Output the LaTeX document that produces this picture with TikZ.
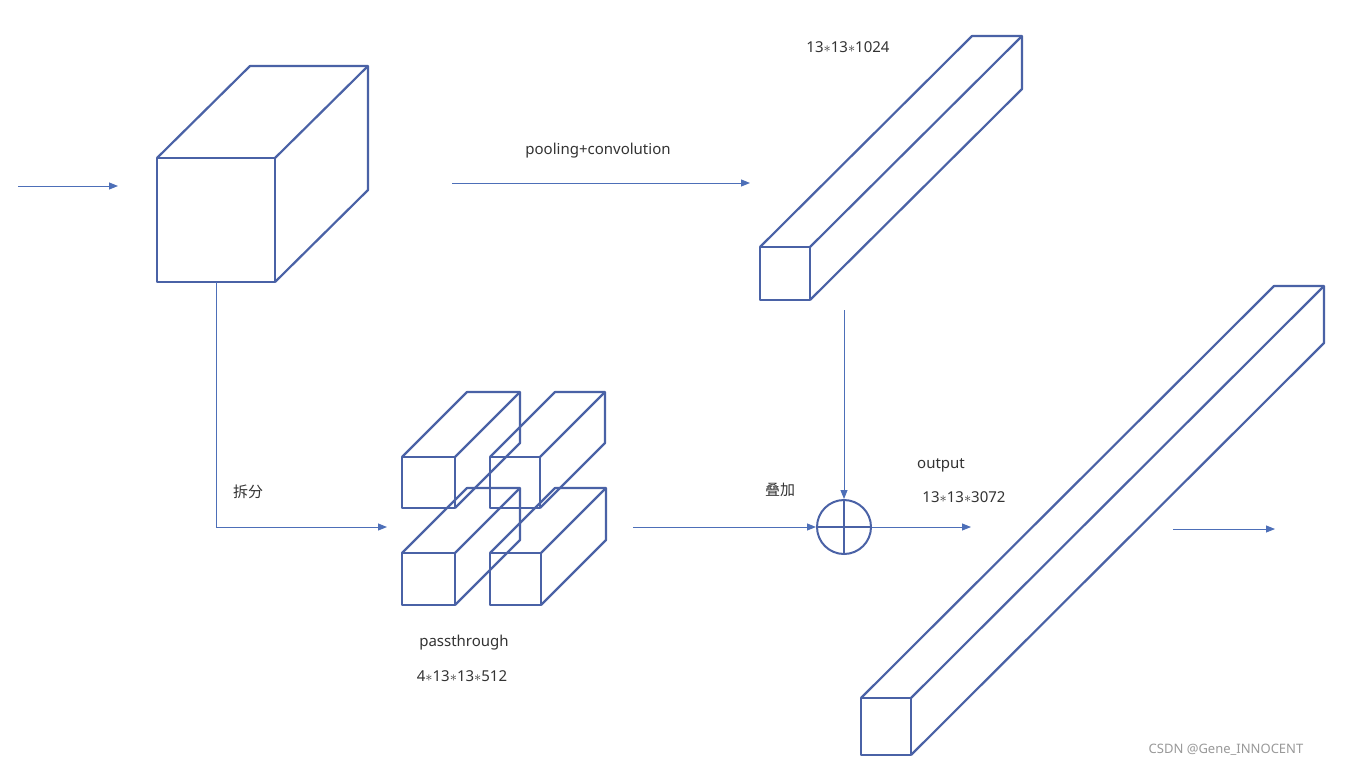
\documentclass[tikz,border=0pt]{standalone}
\usepackage{fontspec}
\setmainfont{Noto Sans}
\newfontfamily\cjk{Noto Sans CJK SC}
\usetikzlibrary{arrows.meta}
\definecolor{bx}{HTML}{4A62A6}
\definecolor{ar}{HTML}{4D6FB8}
\definecolor{tx}{HTML}{333333}
\tikzset{
  boxline/.style={draw=bx,line width=2.2pt,line join=round},
  arr/.style={draw=ar,line width=1pt,-{Triangle[length=9pt,width=7pt]}},
  lbl/.style={text=tx,font=\fontsize{15}{18}\selectfont},
}
% cuboid: front rect (x1,y1)-(x2,y2), offset (dx,dy)
\newcommand{\cuboid}[6]{%
  \draw[boxline] (#1,#2) rectangle (#3,#4);
  \draw[boxline] (#1,#2) -- ++(#5,#6) -- ($(#3,#2)+(#5,#6)$) -- ($(#3,#4)+(#5,#6)$) -- (#3,#4);
  \draw[boxline] (#3,#2) -- ++(#5,#6);
}
\usetikzlibrary{calc}
\begin{document}
\begin{tikzpicture}[x=1pt,y=-1pt]
\useasboundingbox[fill=white] (0,0) rectangle (1348,768);
\cuboid{157}{158}{275}{282}{93}{-92}
\cuboid{760}{247}{810}{300}{212}{-211}
\cuboid{402}{457}{455}{508}{65}{-65}
\cuboid{490}{457}{540}{508}{65}{-65}
\cuboid{402}{553}{455}{605}{65}{-65}
\cuboid{490}{553}{541}{605}{65}{-65}
\cuboid{861}{698}{911}{755}{413}{-412}

\coordinate (in0) at (18,186); \coordinate (in1) at (118,186);
\draw[arr] (in0) -- (in1);
\coordinate (p0) at (452,183); \coordinate (p1) at (750,183);
\draw[arr] (p0) -- (p1);
\node[lbl] (plab) at (598,151) {pooling+convolution};
\node[lbl] (l1024) at (848,47) {13$*$13$*$1024};

\coordinate (s0) at (216,282); \coordinate (s1) at (216,527); \coordinate (s2) at (387,527);
\draw[arr] (s0) -- (s1) -- (s2);
\node[lbl,font=\cjk\fontsize{15}{18}\selectfont] (split) at (248,492) {拆分};

\node[lbl,font=\bfseries\fontsize{15}{18}\selectfont] (pt) at (464,643) {passthrough};
\node[lbl] (pt2) at (462,676) {4$*$13$*$13$*$512};

\node[circle,draw=bx,line width=2pt,minimum size=54pt,inner sep=0pt] (plus) at (844,527) {};
\draw[bx,line width=2pt] (plus.north) -- (plus.south) (plus.west) -- (plus.east);
\coordinate (a0) at (633,527);
\draw[arr] (a0) -- (plus.west);
\node[lbl,font=\cjk\fontsize{15}{18}\selectfont] (stack) at (780,490) {叠加};
\coordinate (v0) at (844,310);
\draw[arr] (v0) -- (plus.north);
\coordinate (o1) at (971,527);
\draw[arr] (plus.east) -- (o1);
\node[lbl,font=\bfseries\fontsize{15}{18}\selectfont] (out) at (941,465) {output};
\node[lbl] (out2) at (964,497) {13$*$13$*$3072};

\coordinate (f0) at (1173,529); \coordinate (f1) at (1275,529);
\draw[arr] (f0) -- (f1);
\node[text=gray!80,font=\fontsize{13}{15}\selectfont] (wm) at (1226,750) {CSDN @Gene\_INNOCENT};
\end{tikzpicture}
\end{document}
